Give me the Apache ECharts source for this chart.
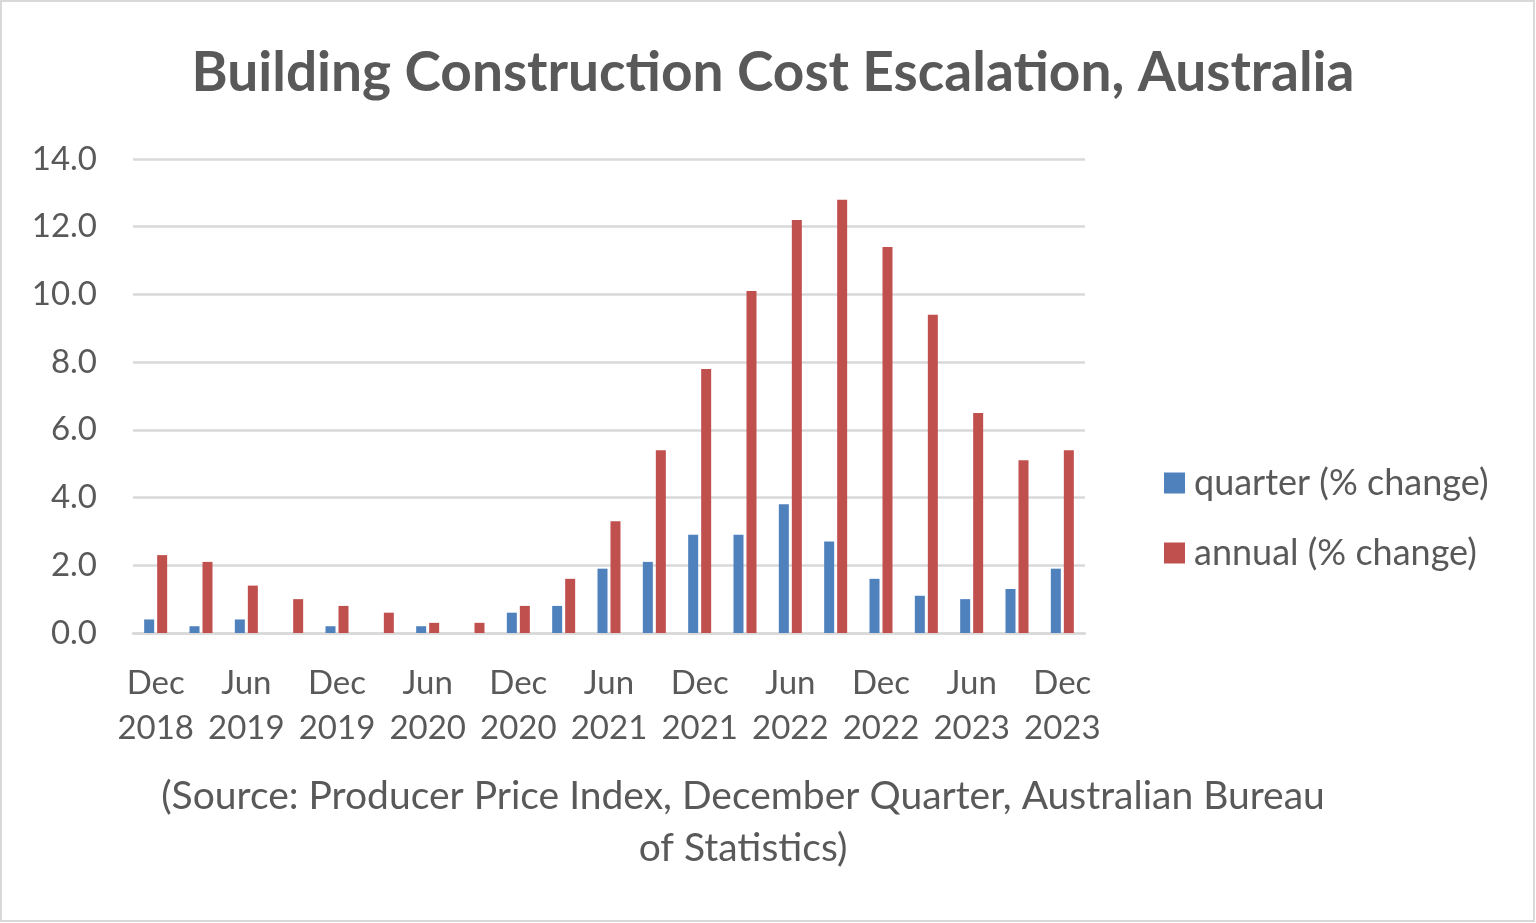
<!DOCTYPE html>
<html>
<head>
<meta charset="utf-8">
<script src="https://cdn.jsdelivr.net/npm/echarts@6/dist/echarts.min.js"></script>
<style>
  html, body { margin: 0; padding: 0; background: #fff; }
  #view1 { width: 1536px; height: 923px; }
</style>
</head>
<body>
<div id="view1"></div>
<script>
var quarters = ["Dec\n2018", "Mar\n2019", "Jun\n2019", "Sep\n2019", "Dec\n2019", "Mar\n2020", "Jun\n2020",
  "Sep\n2020", "Dec\n2020", "Mar\n2021", "Jun\n2021", "Sep\n2021", "Dec\n2021", "Mar\n2022", "Jun\n2022",
  "Sep\n2022", "Dec\n2022", "Mar\n2023", "Jun\n2023", "Sep\n2023", "Dec\n2023"];
var quarterChange = [0.4, 0.2, 0.4, 0, 0.2, 0, 0.2, 0, 0.6, 0.8, 1.9, 2.1, 2.9, 2.9, 3.8, 2.7, 1.6, 1.1, 1.0, 1.3, 1.9];
var annualChange = [2.3, 2.1, 1.4, 1.0, 0.8, 0.6, 0.3, 0.3, 0.8, 1.6, 3.3, 5.4, 7.8, 10.1, 12.2, 12.8, 11.4, 9.4, 6.5, 5.1, 5.4];

var font = "Lato";
var grey = "#595959";

var option = {
  animation: false,
  textStyle: { fontFamily: font },
  title: [{
    text: "Building Construction Cost Escalation, Australia",
    left: 768,
    textAlign: "center",
    top: 41,
    textStyle: { fontFamily: font, fontSize: 55, fontWeight: "bold", color: grey }
  },
  {
    text: "(Source: Producer Price Index, December Quarter, Australian Bureau\nof Statistics)",
    left: 738,
    textAlign: "center",
    top: 765,
    textStyle: { fontFamily: font, fontSize: 39, fontWeight: "normal", color: grey, lineHeight: 52 }
  }
  ],
  graphic: [{
    type: "rect",
    shape: { x: 1, y: 1, width: 1533, height: 920 },
    style: { fill: "none", stroke: "#d9d9d9", lineWidth: 2 },
    silent: true
  }],
  legend: {
    data: ["quarter (% change)", "annual (% change)"],
    orient: "vertical",
    left: 1159,
    top: 460,
    itemWidth: 21,
    itemHeight: 21,
    itemGap: 34,
    icon: "rect",
    textStyle: { fontFamily: font, fontSize: 36, color: grey, padding: [0, 0, 0, 4] }
  },
  grid: {
    left: 133,
    right: 451,
    top: 159,
    bottom: 290
  },
  xAxis: {
    type: "category",
    data: quarters,
    axisLine: { lineStyle: { color: "#d9d9d9", width: 2.5 } },
    axisTick: { show: false },
    axisLabel: {
      interval: 1,
      fontFamily: font,
      fontSize: 33,
      color: grey,
      lineHeight: 45,
      margin: 28
    }
  },
  yAxis: {
    type: "value",
    min: 0,
    max: 14,
    interval: 2,
    axisLine: { show: false },
    axisTick: { show: false },
    splitLine: { lineStyle: { color: "#d9d9d9", width: 2.5 } },
    axisLabel: {
      formatter: function (v) { return v.toFixed(1); },
      fontFamily: font,
      fontSize: 33,
      color: grey,
      margin: 36
    }
  },
  series: [
    {
      name: "quarter (% change)",
      type: "bar",
      data: quarterChange,
      barWidth: 10,
      barGap: "30%",
      itemStyle: { color: "#4f81bd" }
    },
    {
      name: "annual (% change)",
      type: "bar",
      data: annualChange,
      barWidth: 10,
      barGap: "30%",
      itemStyle: { color: "#c0504d" }
    }
  ]
};

echarts.init(document.getElementById("view1")).setOption(option);
</script>
</body>
</html>
